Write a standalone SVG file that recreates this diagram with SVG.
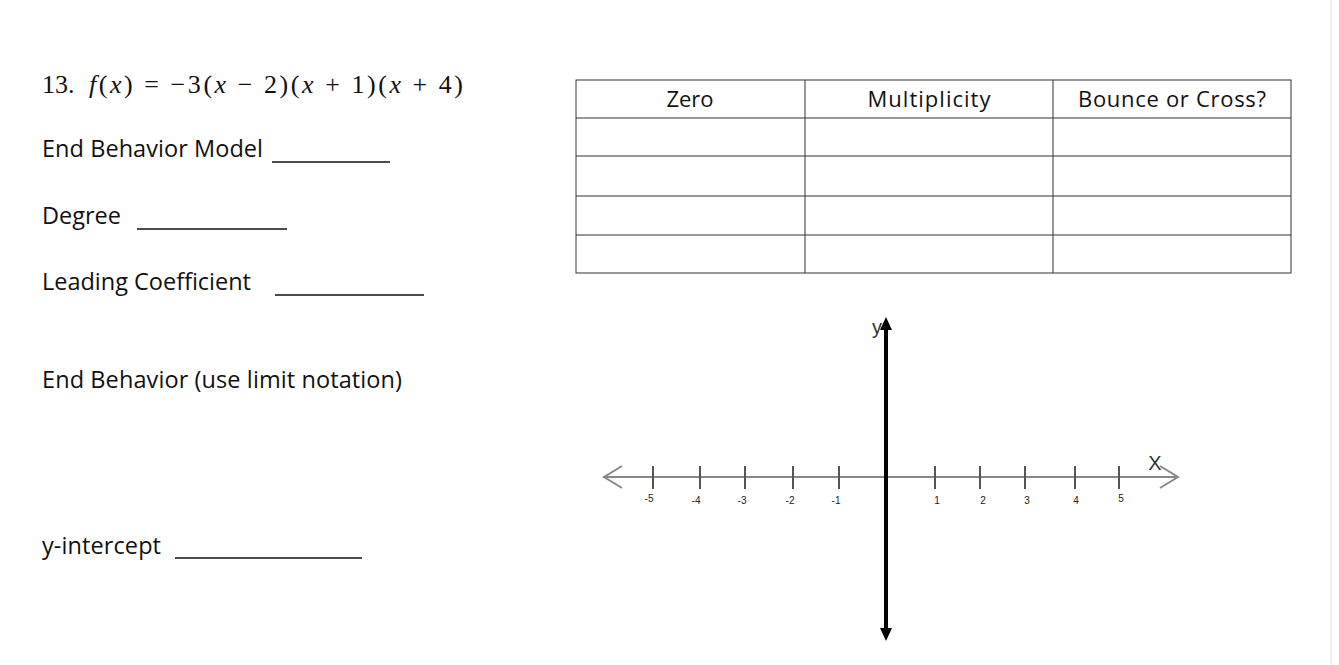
<svg xmlns="http://www.w3.org/2000/svg" width="1339" height="665" viewBox="0 0 1339 665">
<style>
.t{font-family:"Open Sans","Noto Sans",sans-serif;font-size:23.5px;fill:#111}
.m{font-family:"Liberation Serif",serif;font-size:26px;fill:#111}
.h{font-family:"Open Sans","Noto Sans",sans-serif;font-size:22px;fill:#111;text-anchor:middle}
.n{font-family:"Liberation Sans",sans-serif;font-size:10px;fill:#222;text-anchor:middle}
.tick{stroke:#555;stroke-width:2}
.g{fill:none;stroke:#333;stroke-width:1}
.u{stroke:#111;stroke-width:1.5}
</style>
<rect width="1339" height="665" fill="#fff"/>
<line x1="1331" y1="0" x2="1331" y2="665" stroke="#ddd"/>
<g id="question">
<text class="m" x="42" y="93">13.</text>
<text class="m" x="89" y="93" textLength="374" lengthAdjust="spacing"><tspan font-style="italic">f</tspan>(<tspan font-style="italic">x</tspan>) = −3(<tspan font-style="italic">x</tspan> − 2)(<tspan font-style="italic">x</tspan> + 1)(<tspan font-style="italic">x</tspan> + 4)</text>
<text class="t" x="42" y="157" textLength="221">End Behavior Model</text>
<line class="u" x1="272" y1="162" x2="390" y2="162"/>
<text class="t" x="42" y="224">Degree</text>
<line class="u" x1="137" y1="229" x2="287" y2="229"/>
<text class="t" x="42" y="290" textLength="209">Leading Coefficient</text>
<line class="u" x1="275" y1="295" x2="424" y2="295"/>
<text class="t" x="42" y="388" textLength="360">End Behavior (use limit notation)</text>
<text class="t" x="42" y="554" textLength="119">y-intercept</text>
<line class="u" x1="175" y1="558" x2="362" y2="558"/>
</g>
<g id="table">
<rect class="g" x="576" y="80" width="715" height="193"/>
<path class="g" d="M576 118H1291M576 156H1291M576 196H1291M576 235H1291M805 80V273M1053 80V273"/>
<text class="h" x="690" y="107">Zero</text>
<text class="h" x="929" y="107" textLength="123">Multiplicity</text>
<text class="h" x="1172" y="107" textLength="188">Bounce or Cross?</text>
</g>
<g id="axes">
<line x1="603" y1="477" x2="1176" y2="477" stroke="#888" stroke-width="2"/>
<path d="M622 466L604 477L622 488M1160 466L1178 477L1160 488" fill="none" stroke="#888" stroke-width="2"/>
<g class="tick">
<line x1="653" y1="466" x2="653" y2="489"/><line x1="700" y1="466" x2="700" y2="489"/><line x1="745" y1="466" x2="745" y2="489"/><line x1="793" y1="466" x2="793" y2="489"/><line x1="839" y1="466" x2="839" y2="489"/>
<line x1="935" y1="466" x2="935" y2="489"/><line x1="980" y1="466" x2="980" y2="489"/><line x1="1025" y1="466" x2="1025" y2="489"/><line x1="1075" y1="466" x2="1075" y2="489"/><line x1="1119" y1="466" x2="1119" y2="489"/>
</g>
<text class="n" x="649" y="502">-5</text><text class="n" x="696" y="504">-4</text><text class="n" x="742" y="504">-3</text><text class="n" x="790" y="504">-2</text><text class="n" x="836" y="504">-1</text>
<text class="n" x="937" y="504">1</text><text class="n" x="983" y="504">2</text><text class="n" x="1027" y="504">3</text><text class="n" x="1076" y="504">4</text><text class="n" x="1121" y="502">5</text>
<line x1="886" y1="328" x2="886" y2="632" stroke="#000" stroke-width="4"/>
<path d="M886 317L880 330H892Z M886 641L880 628H892Z" fill="#000"/>
<text x="877" y="334" font-family="Liberation Sans,sans-serif" font-size="20" fill="#333" text-anchor="middle">y</text>
<text x="1155" y="470" font-family="Liberation Sans,sans-serif" font-size="20" fill="#333" text-anchor="middle">X</text>
</g>
</svg>
